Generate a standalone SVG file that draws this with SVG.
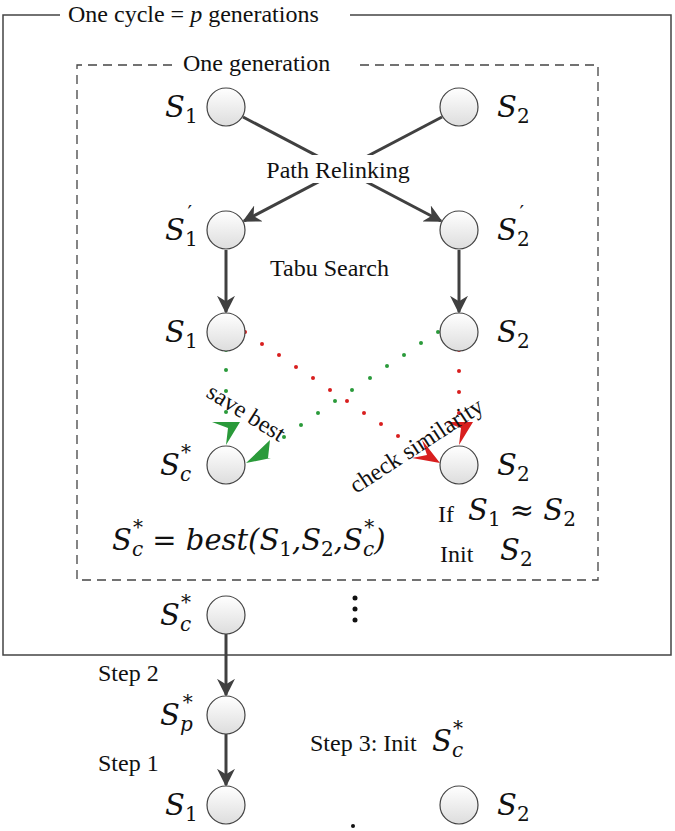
<svg xmlns="http://www.w3.org/2000/svg" width="675" height="831" viewBox="0 0 675 831">
<style>
.t{font-family:"Liberation Serif",serif;font-size:24px;fill:#111}
.m{font-family:"DejaVu Serif",serif;font-style:italic;font-size:29px;fill:#111}
.sb{font-size:20px;font-style:normal}
.sc{font-size:20px}
.n{fill:url(#g);stroke:#444;stroke-width:1.2}
.e{stroke:#404040;stroke-width:3;fill:none}
.gd{fill:#2a9a3a}.rd{fill:#d81e1e}
</style>
<defs>
<linearGradient id="g" x1="0" y1="0" x2="0" y2="1"><stop offset="0" stop-color="#fff"/><stop offset="1" stop-color="#ddd"/></linearGradient>
<marker id="a" viewBox="0 0 10 10" refX="9" refY="5" markerWidth="6" markerHeight="6" orient="auto"><path d="M0,0L10,5L0,10L3,5z" fill="#404040"/></marker>
</defs>
<path d="M60,15H3V655H671V15H350" fill="none" stroke="#444" stroke-width="1.5"/>
<text class="t" x="68" y="22">One cycle = <tspan font-style="italic">p</tspan> generations</text>
<path d="M172,65H77V580H598V65H355" fill="none" stroke="#444" stroke-width="1.3" stroke-dasharray="9,6"/>
<text class="t" x="183" y="71">One generation</text>
<g id="connectors">
<line class="e" x1="243" y1="117" x2="441" y2="221" marker-end="url(#a)"/>
<line class="e" x1="442" y1="117" x2="244" y2="221" marker-end="url(#a)"/>
<rect x="262" y="155" width="152" height="28" fill="#fff"/>
<text class="t" x="338" y="178" text-anchor="middle">Path Relinking</text>
<line class="e" x1="226" y1="250" x2="226" y2="312" marker-end="url(#a)"/>
<line class="e" x1="459" y1="250" x2="459" y2="312" marker-end="url(#a)"/>
<g class="gd"><circle cx="226" cy="350" r="2"/><circle cx="226" cy="370" r="2"/><circle cx="226" cy="391" r="2"/><circle cx="226" cy="412" r="2"/>
<circle cx="438" cy="332" r="2"/><circle cx="421" cy="343" r="2"/><circle cx="404" cy="355" r="2"/><circle cx="387" cy="366" r="2"/><circle cx="370" cy="378" r="2"/><circle cx="352" cy="390" r="2"/><circle cx="335" cy="401" r="2"/><circle cx="318" cy="413" r="2"/><circle cx="301" cy="425" r="2"/><circle cx="284" cy="437" r="2"/></g>
<path class="gd" d="M212,422L240,422L226,445L228,428z"/>
<path class="gd" d="M246,463L270,440L268,458L271,458z"/>
<g class="rd"><circle cx="245" cy="332" r="2"/><circle cx="262" cy="344" r="2"/><circle cx="279" cy="355" r="2"/><circle cx="296" cy="367" r="2"/><circle cx="313" cy="378" r="2"/><circle cx="330" cy="390" r="2"/><circle cx="347" cy="401" r="2"/><circle cx="364" cy="413" r="2"/><circle cx="381" cy="424" r="2"/><circle cx="398" cy="436" r="2"/>
<circle cx="459" cy="350" r="2"/><circle cx="459" cy="371" r="2"/><circle cx="459" cy="392" r="2"/><circle cx="459" cy="413" r="2"/></g>
<path class="rd" d="M445,422L473,422L459,445L461,428z"/>
<path class="rd" d="M440,463L412,458L427,455L422,440z"/>
<line class="e" x1="226" y1="634" x2="226" y2="695" marker-end="url(#a)"/>
<line class="e" x1="226" y1="734" x2="226" y2="785" marker-end="url(#a)"/>
</g>
<text class="t" x="270" y="276">Tabu Search</text>
<text class="t" transform="translate(205,396) rotate(32)">save best</text>
<text class="t" transform="translate(356,494) rotate(-33)">check similarity</text>
<g id="n1"><circle class="n" cx="226" cy="107" r="19"/><text class="m" x="165" y="117">S<tspan class="sb" dy="6">1</tspan></text></g>
<g id="n2"><circle class="n" cx="459" cy="107" r="19"/><text class="m" x="497" y="117">S<tspan class="sb" dy="6">2</tspan></text></g>
<g id="n3"><circle class="n" cx="226" cy="230" r="19"/><text class="m" x="165" y="240">S<tspan class="sb" dy="6">1</tspan><tspan class="sb" dy="-26" dx="-10">′</tspan></text></g>
<g id="n4"><circle class="n" cx="459" cy="230" r="19"/><text class="m" x="497" y="240">S<tspan class="sb" dy="6">2</tspan><tspan class="sb" dy="-26" dx="-10">′</tspan></text></g>
<g id="n5"><circle class="n" cx="226" cy="332" r="19"/><text class="m" x="165" y="342">S<tspan class="sb" dy="6">1</tspan></text></g>
<g id="n6"><circle class="n" cx="459" cy="332" r="19"/><text class="m" x="497" y="342">S<tspan class="sb" dy="6">2</tspan></text></g>
<g id="n7"><circle class="n" cx="226" cy="465" r="19"/><text class="m" x="160" y="475">S<tspan class="sc" dy="6">c</tspan><tspan class="sb" dy="-22" dx="-10">*</tspan></text></g>
<g id="n8"><circle class="n" cx="459" cy="465" r="19"/><text class="m" x="497" y="475">S<tspan class="sb" dy="6">2</tspan></text></g>
<text class="m" x="112" y="550">S<tspan class="sc" dy="6">c</tspan><tspan class="sb" dy="-22" dx="-10">*</tspan><tspan dy="16"> = best(S</tspan><tspan class="sb" dy="6">1</tspan><tspan dy="-6">,S</tspan><tspan class="sb" dy="6">2</tspan><tspan dy="-6">,S</tspan><tspan class="sc" dy="6">c</tspan><tspan class="sb" dy="-22" dx="-10">*</tspan><tspan dy="16">)</tspan></text>
<text class="t" x="438" y="522">If</text>
<text class="m" x="468" y="520">S<tspan class="sb" dy="6">1</tspan><tspan dy="-6"> ≈ S</tspan><tspan class="sb" dy="6">2</tspan></text>
<text class="t" x="440" y="562">Init</text>
<text class="m" x="500" y="560">S<tspan class="sb" dy="6">2</tspan></text>
<g fill="#111"><circle cx="355" cy="598" r="2.5"/><circle cx="355" cy="609" r="2.5"/><circle cx="355" cy="620" r="2.5"/><circle cx="353" cy="826" r="2"/></g>
<g id="n9"><circle class="n" cx="226" cy="615" r="19"/><text class="m" x="160" y="625">S<tspan class="sc" dy="6">c</tspan><tspan class="sb" dy="-22" dx="-10">*</tspan></text></g>
<g id="n10"><circle class="n" cx="226" cy="715" r="19"/><text class="m" x="160" y="725">S<tspan class="sc" dy="6">p</tspan><tspan class="sb" dy="-22" dx="-10">*</tspan></text></g>
<g id="n11"><circle class="n" cx="226" cy="805" r="19"/><text class="m" x="165" y="815">S<tspan class="sb" dy="6">1</tspan></text></g>
<g id="n12"><circle class="n" cx="459" cy="805" r="19"/><text class="m" x="497" y="815">S<tspan class="sb" dy="6">2</tspan></text></g>
<text class="t" x="98" y="681">Step 2</text>
<text class="t" x="98" y="771">Step 1</text>
<text class="t" x="310" y="751">Step 3: Init</text>
<text class="m" x="432" y="751">S<tspan class="sc" dy="6">c</tspan><tspan class="sb" dy="-22" dx="-10">*</tspan></text>
</svg>
